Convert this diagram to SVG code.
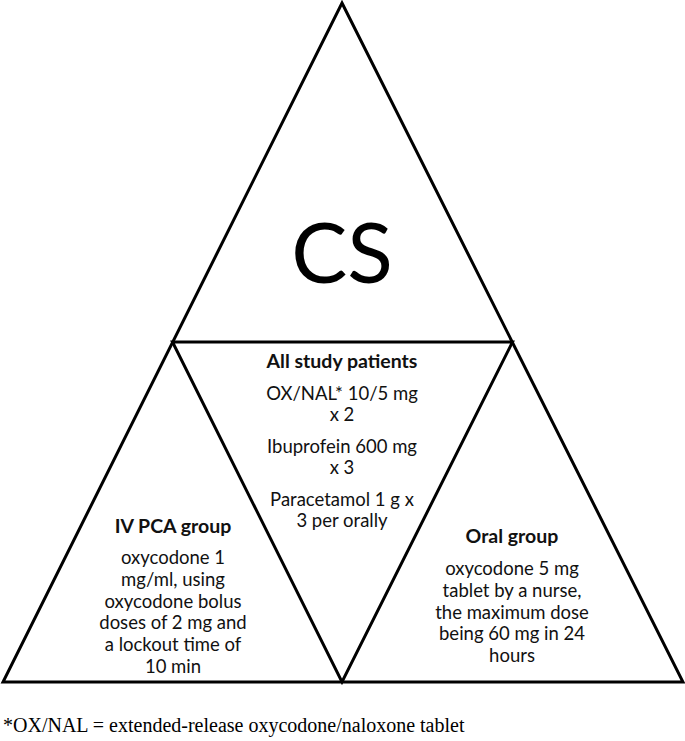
<svg xmlns="http://www.w3.org/2000/svg" width="685" height="741" viewBox="0 0 685 741">
<style>
.ln{fill:none;stroke:#000;stroke-width:3;stroke-linejoin:miter}
.t{font-family:Lato,"Open Sans","Liberation Sans",sans-serif;font-size:18.5px;fill:#111;text-anchor:middle}
.b{font-weight:bold;font-size:19.5px}
.cs{font-family:Lato,"Open Sans","Liberation Sans",sans-serif;font-size:84px;fill:#000;text-anchor:middle}
.fn{font-family:"Liberation Serif","Times New Roman",serif;font-size:20px;fill:#000}
</style>
<rect width="685" height="741" fill="#fff"/>
<g id="connectors">
<polygon class="ln" points="342,3 683,682 3,682"/>
<polygon class="ln" points="172.5,342 512.5,342 342,682"/>
</g>
<g id="cs">
<text class="cs" x="342" y="283">CS</text>
</g>
<g id="all-patients">
<text class="t b" x="342" y="368">All study patients</text>
<text class="t" x="342" y="400">OX/NAL* 10/5 mg</text>
<text class="t" x="342" y="421">x 2</text>
<text class="t" x="342" y="453">Ibuprofein 600 mg</text>
<text class="t" x="342" y="474">x 3</text>
<text class="t" x="342" y="506">Paracetamol 1 g x</text>
<text class="t" x="342" y="527">3 per orally</text>
</g>
<g id="iv-pca">
<text class="t b" x="173" y="533">IV PCA group</text>
<text class="t" x="173" y="564">oxycodone 1</text>
<text class="t" x="173" y="586">mg/ml, using</text>
<text class="t" x="173" y="607.5">oxycodone bolus</text>
<text class="t" x="173" y="629">doses of 2 mg and</text>
<text class="t" x="173" y="651">a lockout time of</text>
<text class="t" x="173" y="673">10 min</text>
</g>
<g id="oral">
<text class="t b" x="512" y="543">Oral group</text>
<text class="t" x="512" y="575">oxycodone 5 mg</text>
<text class="t" x="512" y="597">tablet by a nurse,</text>
<text class="t" x="512" y="618.5">the maximum dose</text>
<text class="t" x="512" y="640">being 60 mg in 24</text>
<text class="t" x="512" y="662">hours</text>
</g>
<g id="footnote">
<text class="fn" x="3" y="732">*OX/NAL = extended-release oxycodone/naloxone tablet</text>
</g>
</svg>
